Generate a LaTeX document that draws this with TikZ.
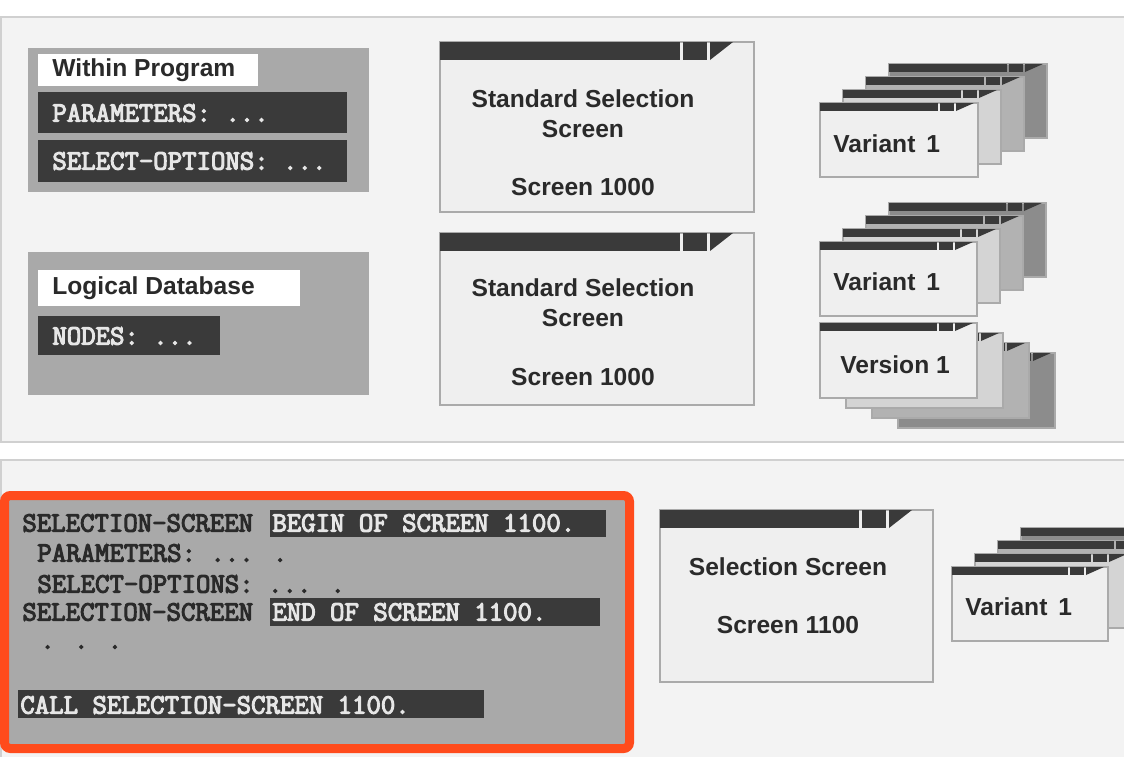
\documentclass[tikz,border=0pt]{standalone}
\usepackage{fontspec}
\setmainfont{Liberation Sans}
\newfontfamily\codefont[FakeBold=4]{Latin Modern Mono}
\usetikzlibrary{positioning}
\definecolor{panelgray}{HTML}{F3F3F3}
\definecolor{panelline}{HTML}{D0D0D0}
\definecolor{boxgray}{HTML}{A9A9A9}
\definecolor{bardark}{HTML}{3A3A3A}
\definecolor{winfill}{HTML}{EFEFEF}
\definecolor{winline}{HTML}{AAAAAA}
\definecolor{textdark}{HTML}{2A2A2A}
\definecolor{bartext}{HTML}{E6E6E6}
\definecolor{framered}{HTML}{FF4B1C}
\definecolor{cardA}{HTML}{D4D4D4}
\definecolor{cardB}{HTML}{B2B2B2}
\definecolor{cardC}{HTML}{8C8C8C}
\tikzset{
	title/.style={
		font=\fontsize{12.3}{15}\selectfont\bfseries,
		text=textdark,
		inner sep=0pt,
		align=center
	},
	code/.style={
		font=\codefont\fontsize{14}{17}\selectfont,
		inner sep=0pt,
		anchor=west
	},
	codelight/.style={code, text=bartext},
	codedark/.style={code, text=textdark}
}
\newcommand{\screenwin}[4]{%
	\filldraw[fill=winfill, draw=winline, line width=0.8pt] (#1,#2) rectangle ++(#3,#4);
	\fill[bardark] (#1,#2) rectangle ++(#3-74,18);
	\fill[bardark] (#1+#3-71,#2) rectangle ++(24,18);
	\fill[bardark] (#1+#3-44,#2) -- ++(23,0) -- ++(-23,18) -- cycle;
}
\newcommand{\vcard}[5]{%
	\filldraw[fill=#5, draw=winline, line width=0.6pt] (#1,#2) rectangle ++(#3,#4);
	\fill[bardark] (#1,#2) rectangle ++(#3-40,8);
	\fill[bardark] (#1+#3-38,#2) rectangle ++(14,8);
	\fill[bardark] (#1+#3-22,#2) -- ++(18,0) -- ++(-18,8) -- cycle;
}

\begin{document}
\begin{tikzpicture}[x=0.5pt, y=-0.5pt]
		\useasboundingbox (0,0) rectangle (1124,756);
		\clip (0,0) rectangle (1124,756);
		\fill[white] (0,0) rectangle (1124,756);
		\filldraw[fill=panelgray, draw=panelline, line width=1pt] (1,17) rectangle (1130,442);
		\filldraw[fill=panelgray, draw=panelline, line width=1pt] (1,460) rectangle (1130,760);
		
		\fill[boxgray] (28,48) rectangle (369,192);
		\fill[white] (38,54) rectangle (258,86);
		\draw node[title, anchor=west](Within) at (52,70) {Within Program};
		\fill[bardark] (38,92) rectangle (347,133);
		\draw node[codelight](Params) at (52,113) {PARAMETERS: ...};
		\fill[bardark] (38,140) rectangle (347,182);
		\draw node[codelight](SelOpts) at (52,161) {SELECT-OPTIONS: ...};
		
		\fill[boxgray] (28,252) rectangle (369,395);
		\fill[white] (38,270) rectangle (300,306);
		\draw node[title, anchor=west](LogDb) at (52,288) {Logical Database};
		\fill[bardark] (38,316) rectangle (220,355);
		\draw node[codelight](Nodes) at (52,336) {NODES: ...};
		
		\screenwin{440}{42}{314}{170}
		\draw node[title](StdSel1) at (583,114) {Standard Selection\\Screen};
		\draw node[title](Screen1) at (583,187) {Screen 1000};
		\screenwin{440}{233}{314}{172}
		\draw node[title](StdSel2) at (583,303) {Standard Selection\\Screen};
		\draw node[title](Screen2) at (583,377) {Screen 1000};
		
		\foreach \i/\c in {3/cardC,2/cardB,1/cardA}
			\vcard{820+23*\i}{103-13*\i}{158}{74}{\c};
		\vcard{820}{103}{158}{74}{winfill}
		\draw node[title, anchor=west](Variant1) at (833,144) {Variant\, 1};
		
		\foreach \i/\c in {3/cardC,2/cardB,1/cardA}
			\vcard{820+23*\i}{242-13*\i}{157}{74}{\c};
		\vcard{820}{242}{157}{74}{winfill}
		\draw node[title, anchor=west](Variant2) at (833,282) {Variant\, 1};
		
		\foreach \i/\c in {3/cardC,2/cardB,1/cardA}
			\vcard{820+26*\i}{323+10*\i}{157}{75}{\c};
		\vcard{820}{323}{157}{75}{winfill}
		\draw node[title, anchor=west](Version1) at (840,365) {Version 1};
		
		\draw[draw=framered, fill=boxgray, line width=4.5pt, rounded corners=3pt] (4.5,495.5) rectangle (629.5,748.5);
		\draw node[codedark](SelBegin) at (22,523) {SELECTION-SCREEN};
		\fill[bardark] (270,510) rectangle (606,537);
		\draw node[codelight](BeginScr) at (272,523) {BEGIN OF SCREEN 1100.};
		\draw node[codedark](InParams) at (37,553) {PARAMETERS: ... .};
		\draw node[codedark](InSelOpts) at (37,584) {SELECT-OPTIONS: ... .};
		\draw node[codedark](SelEnd) at (22,612) {SELECTION-SCREEN};
		\fill[bardark] (270,598) rectangle (600,626);
		\draw node[codelight](EndScr) at (272,612) {END OF SCREEN 1100.};
		\draw node[codedark](Dots) at (40,647) {. . .};
		\fill[bardark] (18,690) rectangle (484,718);
		\draw node[codelight](CallScr) at (20,705) {CALL SELECTION-SCREEN 1100.};
		
		\screenwin{660}{510}{273}{172}
		\draw node[title](SelScreen) at (788,567) {Selection Screen};
		\draw node[title](Screen3) at (788,625) {Screen 1100};
		
		\foreach \i/\c in {3/cardC,2/cardB,1/cardA}
			\vcard{952+23*\i}{567-13*\i}{156}{74}{\c};
		\vcard{952}{567}{156}{74}{winfill}
		\draw node[title, anchor=west](Variant3) at (965,607) {Variant\, 1};
	\end{tikzpicture}
\end{document}
